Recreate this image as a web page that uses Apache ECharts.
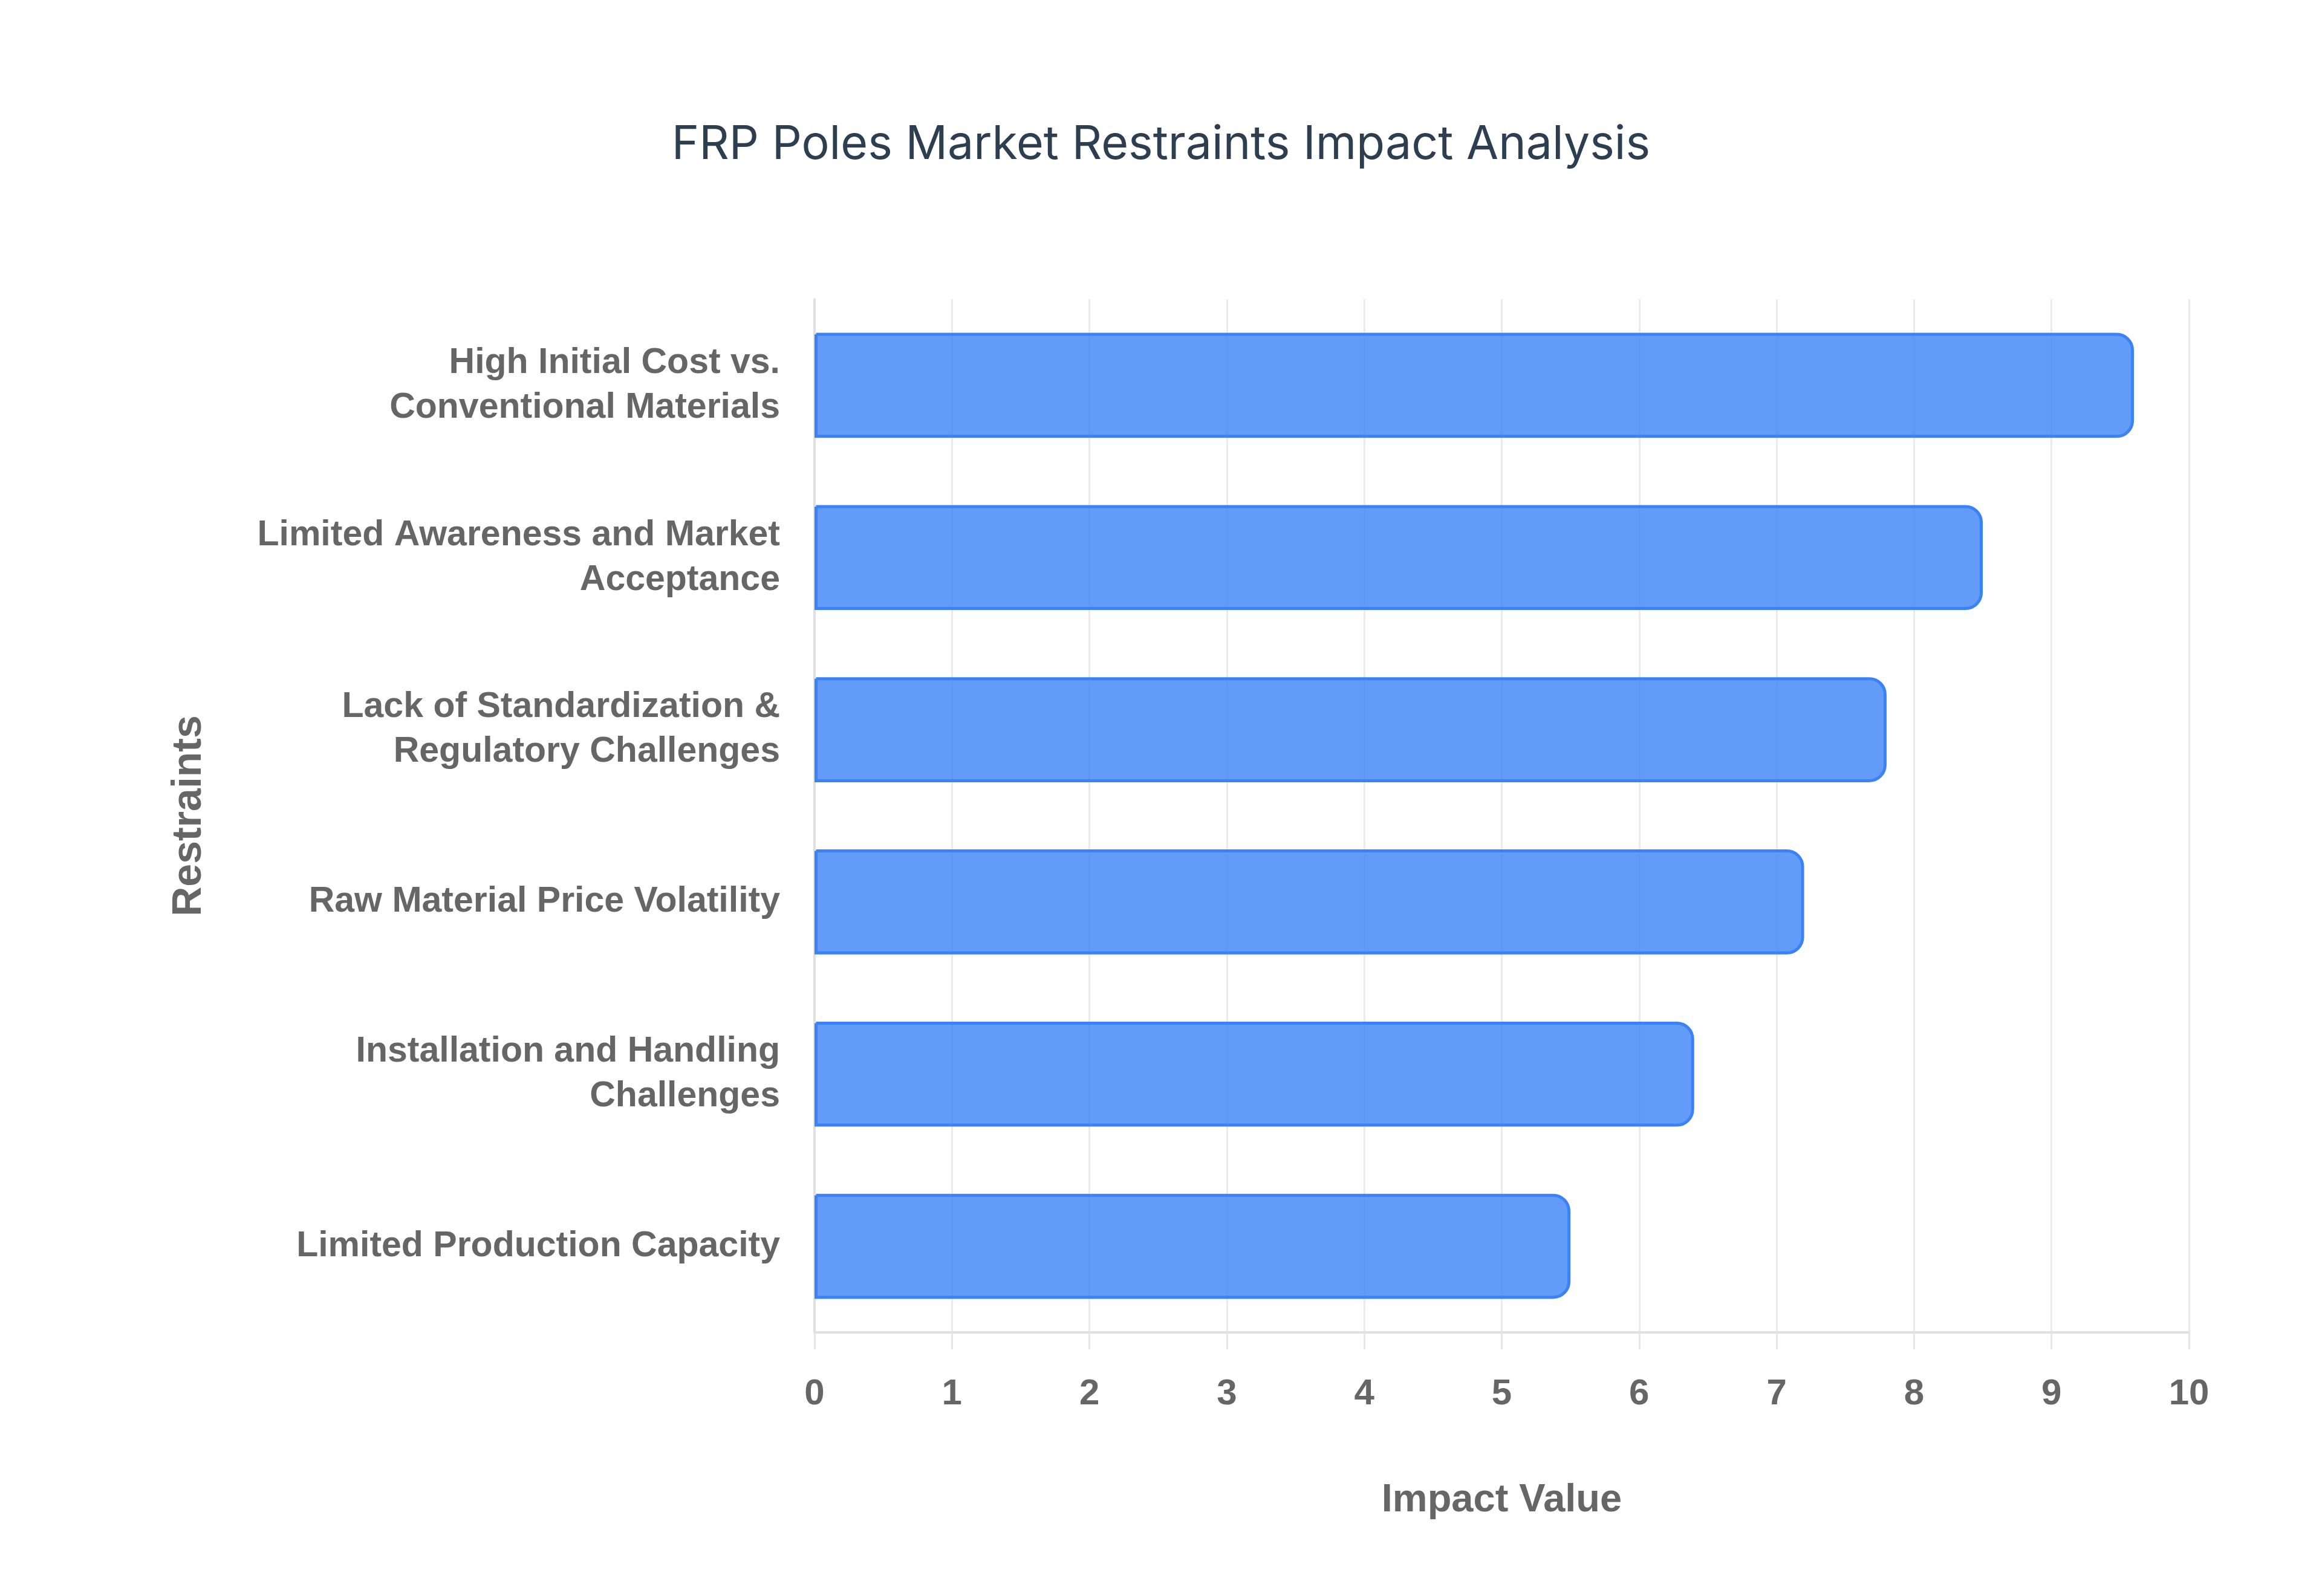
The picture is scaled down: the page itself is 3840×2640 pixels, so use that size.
<!DOCTYPE html>
<html>
<head>
<meta charset="utf-8">
<title>FRP Poles Market Restraints Impact Analysis</title>
<script src="https://cdn.jsdelivr.net/npm/echarts@6/dist/echarts.min.js"></script>
<style>
  html, body { margin: 0; padding: 0; background: #ffffff; }
  #chart { width: 3840px; height: 2640px; }
</style>
</head>
<body>
<div id="chart"></div>
<script>
// restraints, top to bottom (line breaks as shown on the axis)
var categories = [
  "High Initial Cost vs.\nConventional Materials",
  "Limited Awareness and Market\nAcceptance",
  "Lack of Standardization &\nRegulatory Challenges",
  "Raw Material Price Volatility",
  "Installation and Handling\nChallenges",
  "Limited Production Capacity"
];
var impactValues = [9.6, 8.5, 7.8, 7.2, 6.4, 5.5];
var xTicks = [0, 1, 2, 3, 4, 5, 6, 7, 8, 9, 10];

var labelFont = "Liberation Sans, Arial, Helvetica, sans-serif";

var myChart = echarts.init(document.getElementById("chart"));

var option = {
  backgroundColor: "#ffffff",
  animation: false,
  title: {
    text: "FRP Poles Market Restraints Impact Analysis",
    left: "center",
    top: 196,
    textStyle: {
      color: "#2c3e50",
      fontFamily: "Inter, Roboto, sans-serif",
      fontWeight: "normal",
      fontSize: 77
    }
  },
  grid: {
    left: 1347,
    right: 220,
    top: 495,
    bottom: 436
  },
  xAxis: {
    type: "value",
    min: xTicks[0],
    max: xTicks[xTicks.length - 1],
    interval: 1,
    name: "Impact Value",
    nameLocation: "middle",
    nameGap: 246,
    nameTextStyle: {
      color: "#666666",
      fontFamily: labelFont,
      fontWeight: "bold",
      fontSize: 65
    },
    axisLine: { show: true, lineStyle: { color: "#e0e0e0", width: 4 } },
    axisTick: { show: true, length: 28, lineStyle: { color: "#e6e6e6", width: 3 } },
    axisLabel: {
      margin: 72,
      color: "#666666",
      fontFamily: labelFont,
      fontWeight: "bold",
      fontSize: 60
    },
    splitLine: { show: true, lineStyle: { color: "#ebebeb", width: 3 } }
  },
  yAxis: {
    type: "category",
    data: categories,
    inverse: true,
    name: "Restraints",
    nameLocation: "middle",
    nameGap: 1000,
    nameTextStyle: {
      color: "#666666",
      fontFamily: labelFont,
      fontWeight: "bold",
      fontSize: 68
    },
    axisLine: { show: true, lineStyle: { color: "#e0e0e0", width: 4 } },
    axisTick: { show: false },
    axisLabel: {
      margin: 57,
      color: "#666666",
      fontFamily: labelFont,
      fontWeight: "bold",
      fontSize: 59,
      lineHeight: 74
    },
    splitLine: { show: false }
  },
  series: [
    {
      name: "Impact",
      type: "bar",
      data: impactValues,
      barWidth: "61%",
      itemStyle: {
        color: "rgba(59, 130, 246, 0.8)",
        borderColor: "#3b82f6",
        borderWidth: 5,
        borderRadius: [0, 26, 26, 0]
      }
    }
  ]
};

myChart.setOption(option);
</script>
</body>
</html>
